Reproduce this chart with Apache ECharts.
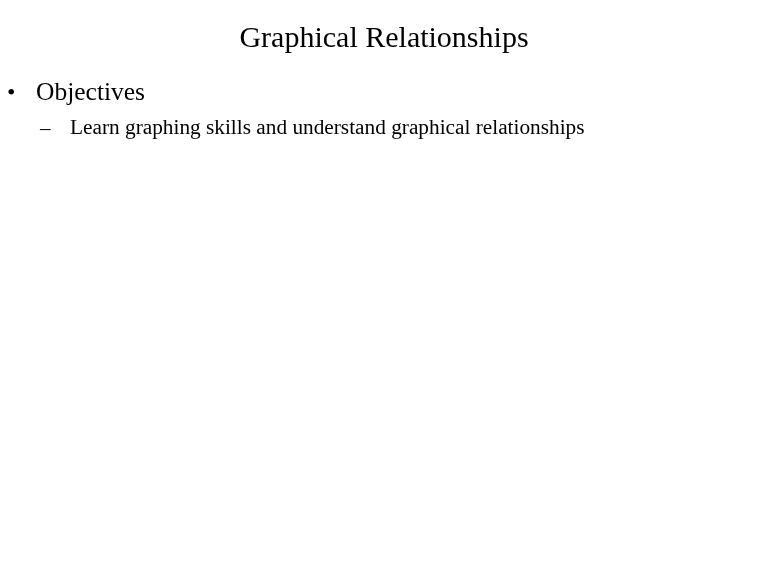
<!DOCTYPE html>
<html>
<head>
<meta charset="utf-8">
<script src="https://cdn.jsdelivr.net/npm/echarts@6/dist/echarts.min.js"></script>
<style>
html,body{margin:0;padding:0;background:#fff;}
#chart{width:768px;height:576px;}
</style>
</head>
<body>
<div id="chart"></div>
<script>
const slideTitle = "Graphical Relationships";
const bulletItems = ["Objectives"];
const subItems = ["Learn graphing skills and understand graphical relationships"];

const chart = echarts.init(document.getElementById('chart'), null, {renderer: 'canvas'});
const font = '"Liberation Serif", "Times New Roman", serif';
const graphics = [
  {type: 'text', left: 'center', top: 24, style: {text: slideTitle, font: '30px ' + font, fill: '#000'}},
  {type: 'text', left: 7, top: 82, style: {text: '•', font: '24px ' + font, fill: '#000'}},
  {type: 'text', left: 36, top: 80, style: {text: bulletItems[0], font: '25.5px ' + font, fill: '#000'}},
  {type: 'text', left: 40, top: 119, style: {text: '–', font: '21px ' + font, fill: '#000'}},
  {type: 'text', left: 70, top: 118, style: {text: subItems[0], font: '21.3px ' + font, fill: '#000'}}
];
chart.setOption({backgroundColor: '#fff', graphic: graphics});
</script>
</body>
</html>
